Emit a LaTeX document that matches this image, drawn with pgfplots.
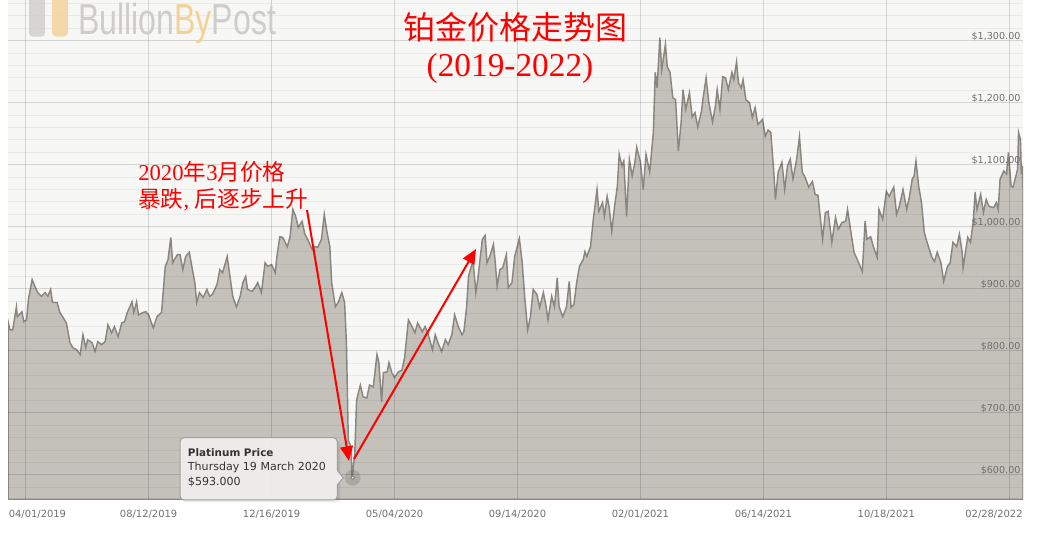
\documentclass[border=0pt]{standalone}
\usepackage{fontspec}
\usepackage{pgfplots}
\usepackage{pgfplotstable}
\pgfplotsset{compat=1.18}
\usetikzlibrary{arrows.meta}
\setmainfont{DejaVu Sans}
\newfontfamily\cjk{Noto Sans CJK SC}
\newfontfamily\serif{Liberation Serif}
\newfontfamily\logo{Liberation Sans}

\definecolor{plotbg}{HTML}{F7F7F5}
\definecolor{areafill}{HTML}{C4C0BA}
\definecolor{arealine}{HTML}{8A8781}
\definecolor{ticktext}{HTML}{707070}
\definecolor{tipfill}{HTML}{F1F0EE}
\definecolor{tipline}{HTML}{A2A09D}
\definecolor{tiptext}{HTML}{333333}
\definecolor{logogray}{HTML}{CFCDCA}
\definecolor{logoorange}{HTML}{F3D296}

% platinum price, days counted from 01/04/2019
\pgfplotstableread{
day price
-19 847
-17 834
-14 834
-10 871
-9 855
-4 863
-2 847
1 850
3 883
7 915
10 904
13 894
17 888
21 894
24 888
27 899
29 878
34 878
37 862
40 855
44 845
48 813
51 805
55 802
59 794
62 826
65 805
67 818
72 813
75 799
78 815
82 810
86 815
89 842
93 829
96 839
100 823
104 845
107 847
110 862
115 879
117 862
120 879
122 858
127 862
130 863
133 858
138 837
142 855
147 862
151 936
154 947
157 983
159 942
164 955
167 955
170 931
173 952
177 959
180 934
183 910
185 878
188 894
192 886
196 899
199 888
202 891
207 907
210 931
213 926
218 952
221 920
224 888
228 871
232 888
235 910
238 920
240 899
245 896
248 902
251 910
255 894
259 942
262 936
266 939
270 926
272 955
275 984
278 983
283 968
286 984
289 1028
292 1017
295 999
299 1009
302 988
305 980
310 963
313 968
316 967
320 980
323 1020
326 991
329 968
331 910
335 871
338 878
342 894
345 878
347 811
349 656
352 645
353 593
356 635
358 721
362 745
365 726
369 724
372 745
376 742
380 794
382 782
385 718
387 765
391 766
393 781
396 765
399 757
403 766
407 769
410 790
414 850
418 839
421 829
424 845
429 831
432 839
435 829
440 802
443 826
446 813
450 799
454 818
457 810
461 826
464 858
468 839
472 826
474 831
477 871
479 920
482 936
484 944
487 894
489 915
494 980
497 986
499 942
502 952
506 972
508 942
510 904
513 931
516 934
520 955
522 902
526 910
529 952
534 981
537 944
540 883
543 834
546 855
549 899
553 891
556 870
560 894
563 871
565 850
569 888
572 871
575 918
577 871
581 855
585 871
588 912
590 870
593 875
596 910
599 936
603 947
605 960
607 952
611 968
614 1012
618 1060
620 1025
624 1039
626 1017
629 1049
631 1033
634 993
637 1033
640 1065
642 1117
645 1098
647 1106
650 1017
653 1109
656 1082
659 1104
661 1128
665 1104
668 1060
671 1117
675 1088
679 1153
681 1249
683 1224
686 1305
688 1253
692 1294
694 1258
697 1249
700 1208
703 1205
706 1122
709 1168
711 1221
714 1189
718 1216
721 1177
724 1184
727 1161
731 1186
733 1210
736 1240
739 1200
743 1169
746 1194
748 1221
751 1189
754 1242
757 1240
760 1221
764 1249
766 1237
769 1266
771 1232
774 1224
776 1237
779 1205
783 1200
786 1176
789 1192
792 1165
797 1173
800 1146
803 1156
806 1152
809 1093
811 1044
814 1088
818 1104
821 1060
824 1098
827 1109
830 1077
834 1109
837 1145
840 1088
843 1080
847 1064
851 1073
854 1052
857 1051
862 980
865 1023
868 1025
872 975
876 1015
879 996
883 1007
887 1009
889 1028
893 988
896 959
901 942
905 928
908 1009
910 980
914 984
917 968
921 951
923 1028
927 1012
931 1057
934 1049
939 1064
942 1020
945 1033
949 1060
953 1028
956 1049
959 1077
961 1082
963 1106
966 1065
969 1039
972 991
975 975
980 952
983 944
986 959
990 942
993 912
997 936
1000 942
1003 975
1007 968
1010 988
1013 959
1014 934
1019 983
1022 975
1025 1009
1027 1056
1029 1028
1033 1052
1036 1023
1039 1044
1042 1033
1047 1031
1050 1039
1052 1028
1054 1077
1058 1090
1061 1085
1063 1120
1066 1065
1068 1064
1073 1093
1074 1152
1076 1141
1077 1085
1078 1098
1078.8 1062
}\platinum

\begin{document}
\begin{tikzpicture}
\path[use as bounding box] (0,0) rectangle (781.5pt,400.5pt);
\begin{axis}[
    at={(6pt,26.03pt)},
    anchor=south west,
    scale only axis,
    width=761.25pt,
    height=374.47pt,
    xmin=-19.1, xmax=1078.8,
    ymin=560.8, ymax=1365.6,
    axis background/.style={fill=plotbg},
    axis line style={draw=none},
    axis on top,
    xtick={0,133,266,399,532,665,798,931,1064},
    % first and last labels pushed inwards, as in the original
    xticklabels={\hspace*{17.7pt}04/01/2019,08/12/2019,12/16/2019,05/04/2020,09/14/2020,02/01/2021,06/14/2021,10/18/2021,02/28/2022\hspace*{23pt}},
    ytick={500,600,...,1400},
    minor y tick num=4,
    xmajorgrids, ymajorgrids, yminorgrids,
    major grid style={draw=black, draw opacity=0.14, line width=0.75pt},
    minor grid style={draw=black, draw opacity=0.05, line width=0.75pt},
    major tick length=0pt,
    minor tick length=0pt,
    yticklabel pos=right,
    /pgf/number format/assume math mode=true,
    yticklabel={\$\pgfmathprintnumber[fixed,fixed zerofill,precision=2,1000 sep={,}]{\tick}},
    yticklabel style={anchor=base east, xshift=-1.7pt, yshift=1.1pt, inner sep=0pt,
        font=\fontsize{7.2pt}{8pt}\selectfont, text=ticktext},
    xticklabel style={anchor=center, yshift=-11.2pt, inner sep=0pt,
        font=\fontsize{7.45pt}{9pt}\selectfont, text=ticktext},
]
\addplot[draw=arealine, line width=1.1pt, fill=areafill] table[x=day, y=price]{\platinum} \closedcycle;
\end{axis}

\begin{scope}[x=0.75pt, y=-0.75pt, shift={(0pt,400.5pt)}]
  % logo
  \fill[logogray, opacity=0.8, rounded corners=3] (29,-6) rectangle (45,36.7);
  \fill[logoorange, opacity=0.8, rounded corners=3] (52,-6) rectangle (68,36.7);
  \node[anchor=base west, inner sep=0pt, xscale=0.74,
        font=\logo\fontsize{32.5pt}{33pt}\selectfont] at (78,35)
        {\textcolor{logogray}{Bullion}\textcolor{logoorange}{By}\textcolor{logogray}{Post}};
  % title
  \node[text=red, inner sep=0pt, font=\cjk\fontsize{24pt}{26pt}\selectfont] at (515,27) {铂金价格走势图};
  \node[text=red, inner sep=0pt, font=\serif\fontsize{25pt}{27pt}\selectfont] at (510,68.5) {(2019-2022)};
  % annotation
  \node[text=red, anchor=west, inner sep=0pt, font=\fontsize{17pt}{20pt}\selectfont] at (138,172)
        {\serif 2020\cjk 年\serif 3\cjk 月价格};
  \node[text=red, anchor=west, inner sep=0pt, font=\fontsize{17pt}{20pt}\selectfont] at (138,200)
        {\cjk 暴跌\serif, \cjk 后逐步上升};
  \draw[red, line width=1.5pt, -{Triangle[length=11pt,width=9.5pt]}] (307,210) -- (349,461);
  \draw[red, line width=1.5pt, -{Triangle[length=11pt,width=9.5pt]}] (354,459) -- (476,249);
  % tooltip
  \fill[black, opacity=0.08, rounded corners=3] (182,440) rectangle (340,502.5);
  \draw[tipline, fill=tipfill, fill opacity=0.93, line width=0.75pt, rounded corners=3]
        (180,437.7) -- (337.3,437.7) [sharp corners]-- (337.3,470.5) -- (343.3,477.7)
        -- (337.3,485) [rounded corners=3]-- (337.3,500) -- (180,500) -- cycle;
  \node[anchor=west, inner sep=0pt, text=tiptext, font=\fontsize{7.8pt}{9pt}\selectfont\bfseries]
        at (187.7,452.7) {Platinum Price};
  \node[anchor=west, inner sep=0pt, text=tiptext, font=\fontsize{8.3pt}{9pt}\selectfont]
        at (187.7,467.3) {Thursday 19 March 2020};
  \node[anchor=west, inner sep=0pt, text=tiptext, font=\fontsize{8.3pt}{9pt}\selectfont]
        at (187.7,481.7) {\$593.000};
  \fill[black, opacity=0.12] (352.7,477.7) circle (8);
  \draw[gray, fill=white, line width=0.6pt] (352.7,477.7) circle (1.8);
\end{scope}
\end{tikzpicture}
\end{document}
